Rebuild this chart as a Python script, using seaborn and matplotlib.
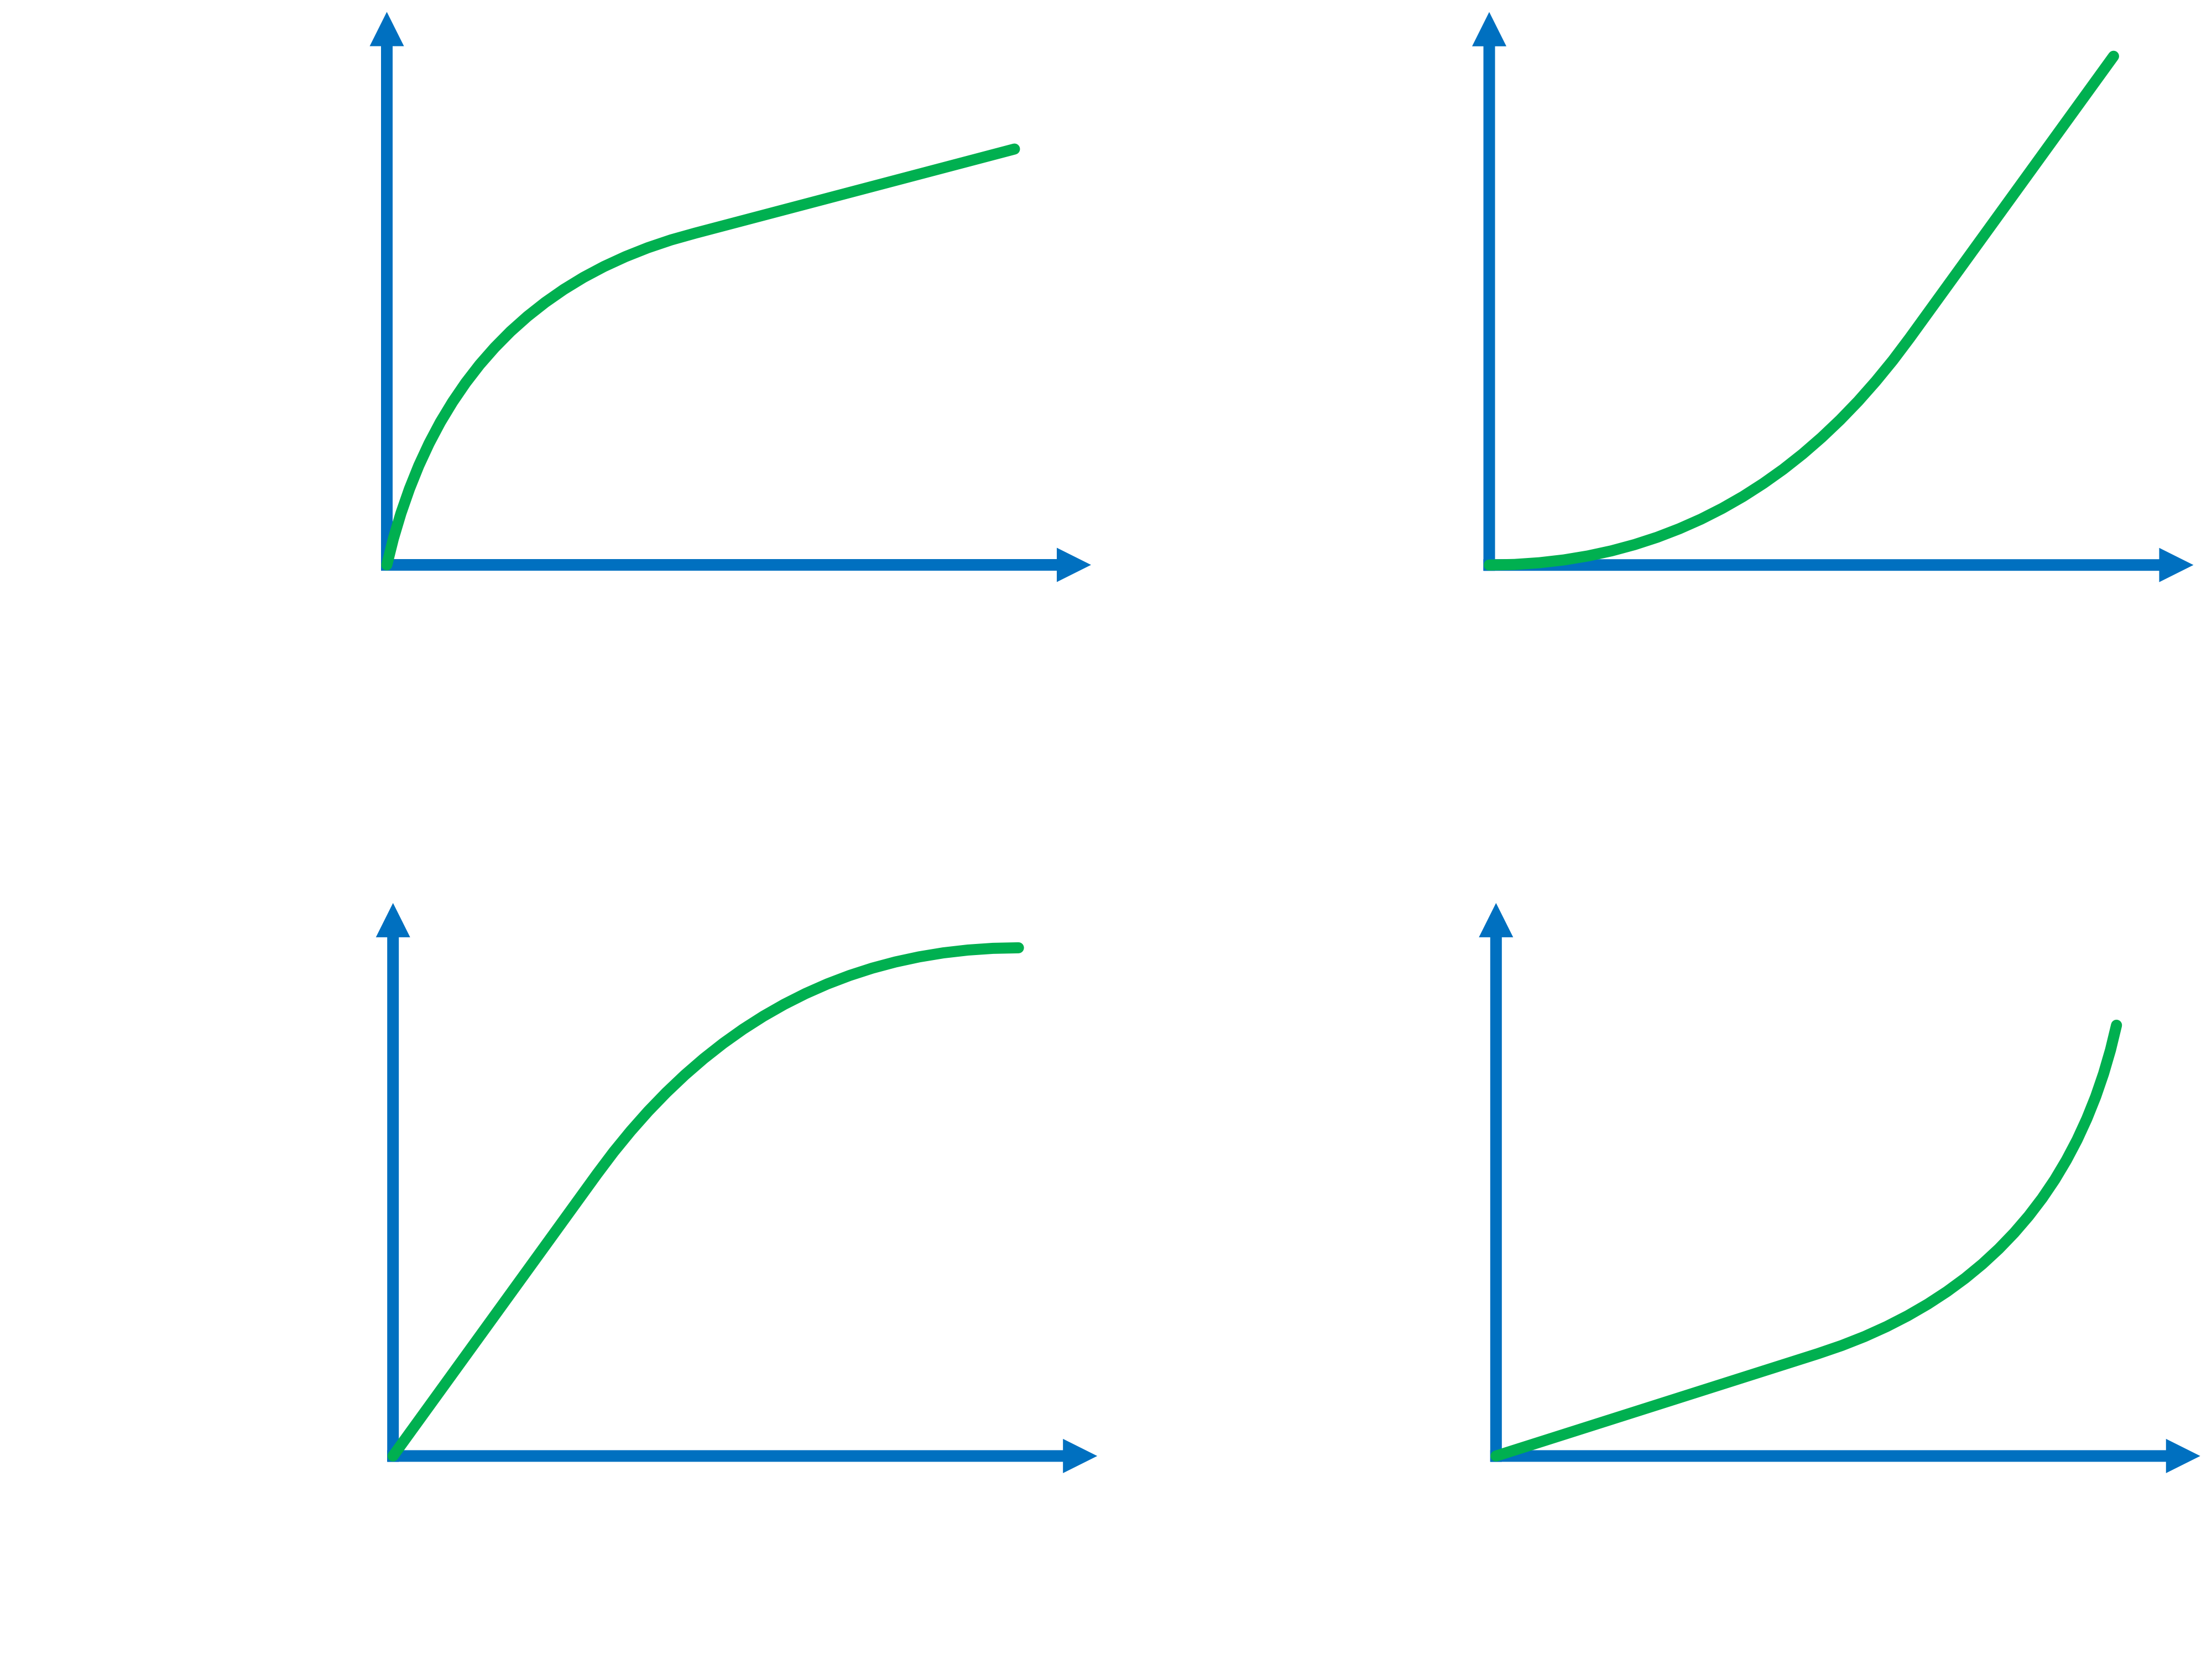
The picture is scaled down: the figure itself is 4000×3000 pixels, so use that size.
import matplotlib
matplotlib.use("Agg")
import matplotlib.pyplot as plt
from matplotlib.patches import FancyArrowPatch, ArrowStyle
import seaborn as sns
import pandas as pd

# ---- data (units: axis x runs 0..127.35, axis y runs 0..100) ----
x1 = [0, 1.19, 2.56, 4.09, 5.78, 7.65, 9.68, 11.89, 14.26, 16.79, 19.50,
      22.37, 25.42, 28.63, 32.00, 35.55, 39.26, 43.15, 47.20, 51.41, 55.8, 113.5]
y1 = [0, 4.77, 9.35, 13.74, 17.95, 21.98, 25.81, 29.46, 32.93, 36.21, 39.30,
      42.21, 44.93, 47.46, 49.81, 51.98, 53.95, 55.74, 57.35, 58.77, 60.0, 75.2]

x2 = [0, 4.59, 9.09, 13.52, 17.86, 22.11, 26.29, 30.38, 34.38, 38.31, 42.15,
      45.91, 49.58, 53.18, 56.69, 60.11, 63.46, 66.72, 69.89, 72.99, 76.0, 112.9]
y2 = [0, 0.10, 0.41, 0.92, 1.64, 2.56, 3.69, 5.02, 6.56, 8.30, 10.25,
      12.40, 14.76, 17.32, 20.09, 23.06, 26.24, 29.62, 33.21, 37.00, 41.0, 92.0]

x3 = [0, 36.9, 39.90, 42.99, 46.16, 49.42, 52.76, 56.19, 59.70, 63.30, 66.98,
      70.75, 74.60, 78.54, 82.56, 86.67, 90.86, 95.14, 99.50, 103.95, 108.48, 113.1]
y3 = [0, 51.0, 54.99, 58.77, 62.35, 65.72, 68.89, 71.86, 74.62, 77.18, 79.53,
      81.68, 83.62, 85.36, 86.89, 88.22, 89.34, 90.26, 90.98, 91.49, 91.80, 91.9]

x4 = [0, 58.2, 62.52, 66.66, 70.64, 74.44, 78.08, 81.54, 84.84, 87.96, 90.92,
      93.70, 96.32, 98.76, 101.04, 103.14, 105.08, 106.84, 108.44, 109.86, 111.12, 112.2]
y4 = [0, 18.5, 19.98, 21.61, 23.41, 25.36, 27.47, 29.73, 32.15, 34.72, 37.46,
      40.35, 43.40, 46.60, 49.97, 53.49, 57.17, 61.00, 64.99, 69.13, 73.44, 77.9]

series = [(x1, y1), (x2, y2), (x3, y3), (x4, y4)]

# ---- layout / style ----
W, H, DPI = 4000, 3000, 250
X_MAX, Y_MAX = 127.35, 100.0
AX_W_PX, AX_H_PX = 1273.5, 1000.0
origins_px = [(699.5, 1021.5), (2693.0, 1021.7), (710.7, 2632.9), (2705.3, 2632.9)]
BLUE = "#0070C0"
GREEN = "#00B050"
px2pt = 72.0 / DPI

sns.set_style("white")
fig = plt.figure(figsize=(W / DPI, H / DPI), dpi=DPI)
fig.patch.set_facecolor("white")

for (ox, oy), (xs, ys) in zip(origins_px, series):
    ax = fig.add_axes([ox / W, 1 - oy / H, AX_W_PX / W, AX_H_PX / H])
    ax.set_xlim(0, X_MAX)
    ax.set_ylim(0, Y_MAX)
    ax.set_axis_off()

    style = ArrowStyle.Simple(head_length=62 * px2pt, head_width=62 * px2pt,
                              tail_width=21 * px2pt)
    hx = 10.5 / AX_W_PX
    hy = 10.5 / AX_H_PX
    for pa, pb in [((-hx, 0), (1, 0)), ((0, -hy), (0, 1))]:
        arr = FancyArrowPatch(posA=pa, posB=pb, transform=ax.transAxes,
                              arrowstyle=style, mutation_scale=1,
                              shrinkA=0, shrinkB=0, color=BLUE, linewidth=0,
                              clip_on=False, zorder=1)
        ax.add_patch(arr)

    df = pd.DataFrame({"x": xs, "y": ys})
    sns.lineplot(data=df, x="x", y="y", ax=ax, sort=False, estimator=None,
                 color=GREEN, linewidth=20 * px2pt, solid_capstyle="round",
                 solid_joinstyle="round", clip_on=False, zorder=3)
    ax.set_axis_off()

fig.savefig("out.png", dpi=DPI, facecolor="white")
